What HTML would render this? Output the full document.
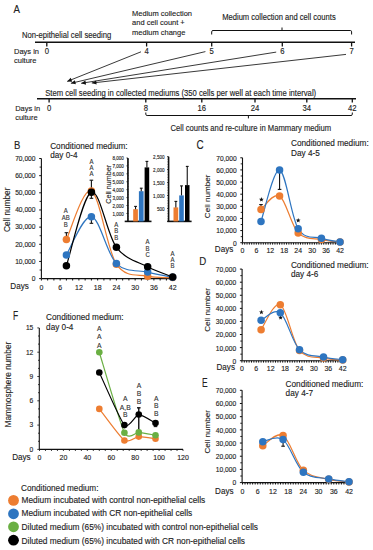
<!DOCTYPE html>
<html><head><meta charset="utf-8"><style>
html,body{margin:0;padding:0;background:#fff;}
svg{display:block;font-family:"Liberation Sans", sans-serif;}
</style></head><body>
<svg width="373" height="550" viewBox="0 0 373 550">
<rect width="373" height="550" fill="#fff"/>
<text x="0" y="0" font-size="10.8" text-anchor="start" fill="#222" stroke="#222" stroke-width="0.12" transform="translate(13.50,13.00) scale(0.9,1.07)">A</text>
<text x="0" y="0" font-size="7.66" text-anchor="start" fill="#222" stroke="#222" stroke-width="0.12" transform="translate(21.90,38.40) scale(1,1.07)">Non-epithelial cell seeding</text>
<line x1="35.00" y1="42.20" x2="355.00" y2="42.20" stroke="#111" stroke-width="1.5" />
<line x1="46.80" y1="42.00" x2="46.80" y2="46.50" stroke="#111" stroke-width="1.3" />
<text x="0" y="0" font-size="7.7" text-anchor="middle" fill="#222" stroke="#222" stroke-width="0.12" transform="translate(46.80,54.10) scale(1,1.07)">0</text>
<line x1="146.60" y1="42.00" x2="146.60" y2="46.50" stroke="#111" stroke-width="1.3" />
<text x="0" y="0" font-size="7.7" text-anchor="middle" fill="#222" stroke="#222" stroke-width="0.12" transform="translate(146.60,54.10) scale(1,1.07)">4</text>
<line x1="211.70" y1="42.00" x2="211.70" y2="46.50" stroke="#111" stroke-width="1.3" />
<text x="0" y="0" font-size="7.7" text-anchor="middle" fill="#222" stroke="#222" stroke-width="0.12" transform="translate(211.70,54.10) scale(1,1.07)">5</text>
<line x1="282.30" y1="42.00" x2="282.30" y2="46.50" stroke="#111" stroke-width="1.3" />
<text x="0" y="0" font-size="7.7" text-anchor="middle" fill="#222" stroke="#222" stroke-width="0.12" transform="translate(282.30,54.10) scale(1,1.07)">6</text>
<line x1="351.60" y1="42.00" x2="351.60" y2="46.50" stroke="#111" stroke-width="1.3" />
<text x="0" y="0" font-size="7.7" text-anchor="middle" fill="#222" stroke="#222" stroke-width="0.12" transform="translate(351.60,54.10) scale(1,1.07)">7</text>
<text x="0" y="0" font-size="7.5" text-anchor="start" fill="#222" stroke="#222" stroke-width="0.12" transform="translate(14.00,54.10) scale(1,1.07)">Days in</text>
<text x="0" y="0" font-size="7.5" text-anchor="start" fill="#222" stroke="#222" stroke-width="0.12" transform="translate(14.00,63.10) scale(1,1.07)">culture</text>
<text x="0" y="0" font-size="7.5" text-anchor="start" fill="#222" stroke="#222" stroke-width="0.12" transform="translate(132.10,16.00) scale(1,1.07)">Medium collection</text>
<text x="0" y="0" font-size="7.5" text-anchor="start" fill="#222" stroke="#222" stroke-width="0.12" transform="translate(132.10,25.30) scale(1,1.07)">and cell count +</text>
<text x="0" y="0" font-size="7.5" text-anchor="start" fill="#222" stroke="#222" stroke-width="0.12" transform="translate(132.10,34.60) scale(1,1.07)">medium change</text>
<text x="0" y="0" font-size="7.6" text-anchor="start" fill="#222" stroke="#222" stroke-width="0.12" transform="translate(222.20,20.00) scale(1,1.07)">Medium collection and cell counts</text>
<path d="M211.7,34.5 L211.7,31.8 Q211.7,30.5 213,30.5 L350.3,30.5 Q351.6,30.5 351.6,31.8 L351.6,34.5 M282,30.5 L282,27.5" stroke="#111" stroke-width="1" fill="none" />
<line x1="141.00" y1="51.80" x2="67.20" y2="81.40" stroke="#222" stroke-width="0.9" />
<path d="M67.20,81.40 L70.69,77.74 L72.25,81.64 Z" fill="#111"/>
<line x1="205.40" y1="51.60" x2="70.90" y2="83.30" stroke="#222" stroke-width="0.9" />
<path d="M70.90,83.30 L74.90,80.20 L75.86,84.29 Z" fill="#111"/>
<line x1="276.20" y1="52.10" x2="81.20" y2="83.30" stroke="#222" stroke-width="0.9" />
<path d="M81.20,83.30 L85.41,80.50 L86.07,84.65 Z" fill="#111"/>
<line x1="346.00" y1="54.40" x2="91.80" y2="83.00" stroke="#222" stroke-width="0.9" />
<path d="M91.80,83.00 L96.14,80.40 L96.61,84.57 Z" fill="#111"/>
<text x="0" y="0" font-size="7.67" text-anchor="start" fill="#222" stroke="#222" stroke-width="0.12" transform="translate(45.20,95.70) scale(1,1.07)">Stem cell seeding in collected mediums (350 cells per well at each time interval)</text>
<line x1="37.00" y1="98.80" x2="356.00" y2="98.80" stroke="#111" stroke-width="1.5" />
<line x1="49.10" y1="98.60" x2="49.10" y2="102.40" stroke="#111" stroke-width="1.3" />
<text x="0" y="0" font-size="7.7" text-anchor="middle" fill="#222" stroke="#222" stroke-width="0.12" transform="translate(49.10,111.40) scale(1,1.07)">0</text>
<line x1="145.80" y1="98.60" x2="145.80" y2="102.40" stroke="#111" stroke-width="1.3" />
<text x="0" y="0" font-size="7.7" text-anchor="middle" fill="#222" stroke="#222" stroke-width="0.12" transform="translate(145.80,111.40) scale(1,1.07)">8</text>
<line x1="201.80" y1="98.60" x2="201.80" y2="102.40" stroke="#111" stroke-width="1.3" />
<text x="0" y="0" font-size="7.7" text-anchor="middle" fill="#222" stroke="#222" stroke-width="0.12" transform="translate(201.80,111.40) scale(1,1.07)">16</text>
<line x1="255.00" y1="98.60" x2="255.00" y2="102.40" stroke="#111" stroke-width="1.3" />
<text x="0" y="0" font-size="7.7" text-anchor="middle" fill="#222" stroke="#222" stroke-width="0.12" transform="translate(255.00,111.40) scale(1,1.07)">24</text>
<line x1="306.80" y1="98.60" x2="306.80" y2="102.40" stroke="#111" stroke-width="1.3" />
<text x="0" y="0" font-size="7.7" text-anchor="middle" fill="#222" stroke="#222" stroke-width="0.12" transform="translate(306.80,111.40) scale(1,1.07)">34</text>
<line x1="352.30" y1="98.60" x2="352.30" y2="102.40" stroke="#111" stroke-width="1.3" />
<text x="0" y="0" font-size="7.7" text-anchor="middle" fill="#222" stroke="#222" stroke-width="0.12" transform="translate(352.30,111.40) scale(1,1.07)">42</text>
<text x="0" y="0" font-size="7.5" text-anchor="start" fill="#222" stroke="#222" stroke-width="0.12" transform="translate(15.20,111.10) scale(1,1.07)">Days in</text>
<text x="0" y="0" font-size="7.5" text-anchor="start" fill="#222" stroke="#222" stroke-width="0.12" transform="translate(15.20,119.80) scale(1,1.07)">culture</text>
<path d="M145.8,112.5 L145.8,114.2 Q145.8,115.5 147.1,115.5 L351,115.5 Q352.3,115.5 352.3,114.2 L352.3,112.5 M248.4,115.5 L248.4,118.4" stroke="#111" stroke-width="1" fill="none" />
<text x="0" y="0" font-size="7.66" text-anchor="start" fill="#222" stroke="#222" stroke-width="0.12" transform="translate(170.40,130.90) scale(1,1.07)">Cell counts and re-culture in Mammary medium</text>
<text x="0" y="0" font-size="10.8" text-anchor="start" fill="#222" stroke="#222" stroke-width="0.12" transform="translate(13.90,148.90) scale(0.88,1.07)">B</text>
<text x="0" y="0" font-size="8.2" text-anchor="start" fill="#222" stroke="#222" stroke-width="0.12" transform="translate(50.20,148.80) scale(1,1.07)">Conditioned medium:</text>
<text x="0" y="0" font-size="8.2" text-anchor="start" fill="#222" stroke="#222" stroke-width="0.12" transform="translate(50.20,158.30) scale(1,1.07)">day 0-4</text>
<line x1="41.40" y1="158.50" x2="41.40" y2="278.60" stroke="#111" stroke-width="1.1" />
<line x1="41.40" y1="278.60" x2="173.00" y2="278.60" stroke="#111" stroke-width="1.1" />
<line x1="39.20" y1="278.60" x2="41.40" y2="278.60" stroke="#111" stroke-width="1.0" />
<line x1="39.60" y1="270.02" x2="41.40" y2="270.02" stroke="#111" stroke-width="0.9" />
<text x="0" y="0" font-size="6.67" text-anchor="end" fill="#222" stroke="#222" stroke-width="0.12" transform="translate(35.50,280.90) scale(1,1.07)">0</text>
<line x1="39.20" y1="261.44" x2="41.40" y2="261.44" stroke="#111" stroke-width="1.0" />
<line x1="39.60" y1="252.86" x2="41.40" y2="252.86" stroke="#111" stroke-width="0.9" />
<text x="0" y="0" font-size="6.67" text-anchor="end" fill="#222" stroke="#222" stroke-width="0.12" transform="translate(35.50,263.74) scale(1,1.07)">10,000</text>
<line x1="39.20" y1="244.29" x2="41.40" y2="244.29" stroke="#111" stroke-width="1.0" />
<line x1="39.60" y1="235.71" x2="41.40" y2="235.71" stroke="#111" stroke-width="0.9" />
<text x="0" y="0" font-size="6.67" text-anchor="end" fill="#222" stroke="#222" stroke-width="0.12" transform="translate(35.50,246.59) scale(1,1.07)">20,000</text>
<line x1="39.20" y1="227.13" x2="41.40" y2="227.13" stroke="#111" stroke-width="1.0" />
<line x1="39.60" y1="218.55" x2="41.40" y2="218.55" stroke="#111" stroke-width="0.9" />
<text x="0" y="0" font-size="6.67" text-anchor="end" fill="#222" stroke="#222" stroke-width="0.12" transform="translate(35.50,229.43) scale(1,1.07)">30,000</text>
<line x1="39.20" y1="209.97" x2="41.40" y2="209.97" stroke="#111" stroke-width="1.0" />
<line x1="39.60" y1="201.39" x2="41.40" y2="201.39" stroke="#111" stroke-width="0.9" />
<text x="0" y="0" font-size="6.67" text-anchor="end" fill="#222" stroke="#222" stroke-width="0.12" transform="translate(35.50,212.27) scale(1,1.07)">40,000</text>
<line x1="39.20" y1="192.81" x2="41.40" y2="192.81" stroke="#111" stroke-width="1.0" />
<line x1="39.60" y1="184.24" x2="41.40" y2="184.24" stroke="#111" stroke-width="0.9" />
<text x="0" y="0" font-size="6.67" text-anchor="end" fill="#222" stroke="#222" stroke-width="0.12" transform="translate(35.50,195.11) scale(1,1.07)">50,000</text>
<line x1="39.20" y1="175.66" x2="41.40" y2="175.66" stroke="#111" stroke-width="1.0" />
<line x1="39.60" y1="167.08" x2="41.40" y2="167.08" stroke="#111" stroke-width="0.9" />
<text x="0" y="0" font-size="6.67" text-anchor="end" fill="#222" stroke="#222" stroke-width="0.12" transform="translate(35.50,177.96) scale(1,1.07)">60,000</text>
<line x1="39.20" y1="158.50" x2="41.40" y2="158.50" stroke="#111" stroke-width="1.0" />
<text x="0" y="0" font-size="6.67" text-anchor="end" fill="#222" stroke="#222" stroke-width="0.12" transform="translate(35.50,160.80) scale(1,1.07)">70,000</text>
<line x1="41.40" y1="278.60" x2="41.40" y2="280.50" stroke="#111" stroke-width="1.0" />
<line x1="47.65" y1="278.60" x2="47.65" y2="280.50" stroke="#111" stroke-width="1.0" />
<line x1="53.90" y1="278.60" x2="53.90" y2="280.50" stroke="#111" stroke-width="1.0" />
<line x1="60.15" y1="278.60" x2="60.15" y2="280.50" stroke="#111" stroke-width="1.0" />
<line x1="66.40" y1="278.60" x2="66.40" y2="280.50" stroke="#111" stroke-width="1.0" />
<line x1="72.65" y1="278.60" x2="72.65" y2="280.50" stroke="#111" stroke-width="1.0" />
<line x1="78.90" y1="278.60" x2="78.90" y2="280.50" stroke="#111" stroke-width="1.0" />
<line x1="85.15" y1="278.60" x2="85.15" y2="280.50" stroke="#111" stroke-width="1.0" />
<line x1="91.40" y1="278.60" x2="91.40" y2="280.50" stroke="#111" stroke-width="1.0" />
<line x1="97.65" y1="278.60" x2="97.65" y2="280.50" stroke="#111" stroke-width="1.0" />
<line x1="103.90" y1="278.60" x2="103.90" y2="280.50" stroke="#111" stroke-width="1.0" />
<line x1="110.15" y1="278.60" x2="110.15" y2="280.50" stroke="#111" stroke-width="1.0" />
<line x1="116.40" y1="278.60" x2="116.40" y2="280.50" stroke="#111" stroke-width="1.0" />
<line x1="122.65" y1="278.60" x2="122.65" y2="280.50" stroke="#111" stroke-width="1.0" />
<line x1="128.90" y1="278.60" x2="128.90" y2="280.50" stroke="#111" stroke-width="1.0" />
<line x1="135.15" y1="278.60" x2="135.15" y2="280.50" stroke="#111" stroke-width="1.0" />
<line x1="141.40" y1="278.60" x2="141.40" y2="280.50" stroke="#111" stroke-width="1.0" />
<line x1="147.65" y1="278.60" x2="147.65" y2="280.50" stroke="#111" stroke-width="1.0" />
<line x1="153.90" y1="278.60" x2="153.90" y2="280.50" stroke="#111" stroke-width="1.0" />
<line x1="160.15" y1="278.60" x2="160.15" y2="280.50" stroke="#111" stroke-width="1.0" />
<line x1="166.40" y1="278.60" x2="166.40" y2="280.50" stroke="#111" stroke-width="1.0" />
<line x1="172.65" y1="278.60" x2="172.65" y2="280.50" stroke="#111" stroke-width="1.0" />
<text x="0" y="0" font-size="7.0" text-anchor="middle" fill="#222" stroke="#222" stroke-width="0.12" transform="translate(41.40,289.60) scale(1,1.07)">0</text>
<text x="0" y="0" font-size="7.0" text-anchor="middle" fill="#222" stroke="#222" stroke-width="0.12" transform="translate(60.15,289.60) scale(1,1.07)">6</text>
<text x="0" y="0" font-size="7.0" text-anchor="middle" fill="#222" stroke="#222" stroke-width="0.12" transform="translate(78.90,289.60) scale(1,1.07)">12</text>
<text x="0" y="0" font-size="7.0" text-anchor="middle" fill="#222" stroke="#222" stroke-width="0.12" transform="translate(97.65,289.60) scale(1,1.07)">18</text>
<text x="0" y="0" font-size="7.0" text-anchor="middle" fill="#222" stroke="#222" stroke-width="0.12" transform="translate(116.40,289.60) scale(1,1.07)">24</text>
<text x="0" y="0" font-size="7.0" text-anchor="middle" fill="#222" stroke="#222" stroke-width="0.12" transform="translate(135.15,289.60) scale(1,1.07)">30</text>
<text x="0" y="0" font-size="7.0" text-anchor="middle" fill="#222" stroke="#222" stroke-width="0.12" transform="translate(153.90,289.60) scale(1,1.07)">36</text>
<text x="0" y="0" font-size="7.0" text-anchor="middle" fill="#222" stroke="#222" stroke-width="0.12" transform="translate(172.65,289.60) scale(1,1.07)">42</text>
<text x="0" y="0" font-size="8.1" text-anchor="start" fill="#222" stroke="#222" stroke-width="0.12" transform="translate(10.30,288.70) scale(1,1.07)">Days</text>
<text x="0.00" y="0.00" font-size="8.25" text-anchor="middle" fill="#222" stroke="#222" stroke-width="0.12" transform="translate(10.1,209.8) rotate(-90)">Cell number</text>
<path d="M66.40,239.48 C70.57,231.42 83.07,186.98 91.40,191.10 C99.73,195.22 107.03,250.00 116.40,264.19 C125.78,278.37 138.28,273.97 147.65,276.20 C157.03,278.43 168.48,277.34 172.65,277.57" stroke="#ED7D31" stroke-width="1.2" fill="none" />
<path d="M66.40,254.92 C70.57,248.55 83.07,215.22 91.40,216.66 C99.73,218.11 107.03,254.35 116.40,263.59 C125.78,272.82 138.28,269.81 147.65,272.08 C157.03,274.35 168.48,276.37 172.65,277.23" stroke="#2E75C0" stroke-width="1.2" fill="none" />
<path d="M66.40,265.73 C70.57,253.46 83.07,195.20 91.40,192.13 C99.73,189.05 107.03,234.83 116.40,247.27 C125.78,259.71 138.28,261.83 147.65,266.76 C157.03,271.70 168.48,275.20 172.65,276.88" stroke="#000000" stroke-width="1.2" fill="none" />
<line x1="66.40" y1="232.70" x2="66.40" y2="239.48" stroke="#111" stroke-width="1.1" />
<line x1="64.60" y1="232.70" x2="68.20" y2="232.70" stroke="#111" stroke-width="1.1" />
<line x1="91.40" y1="180.20" x2="91.40" y2="198.30" stroke="#111" stroke-width="1.1" />
<line x1="89.60" y1="180.20" x2="93.20" y2="180.20" stroke="#111" stroke-width="1.1" />
<line x1="89.60" y1="198.30" x2="93.20" y2="198.30" stroke="#111" stroke-width="1.1" />
<line x1="91.40" y1="223.30" x2="91.40" y2="216.66" stroke="#111" stroke-width="1.1" />
<line x1="89.60" y1="223.30" x2="93.20" y2="223.30" stroke="#111" stroke-width="1.1" />
<circle cx="66.40" cy="239.48" r="3.75" fill="#ED7D31"/>
<circle cx="91.40" cy="191.10" r="3.75" fill="#ED7D31"/>
<circle cx="116.40" cy="264.19" r="3.75" fill="#ED7D31"/>
<circle cx="147.65" cy="276.20" r="3.75" fill="#ED7D31"/>
<circle cx="172.65" cy="277.57" r="3.75" fill="#ED7D31"/>
<circle cx="66.40" cy="254.92" r="3.75" fill="#2E75C0"/>
<circle cx="91.40" cy="216.66" r="3.75" fill="#2E75C0"/>
<circle cx="116.40" cy="263.59" r="3.75" fill="#2E75C0"/>
<circle cx="147.65" cy="272.08" r="3.75" fill="#2E75C0"/>
<circle cx="172.65" cy="277.23" r="3.75" fill="#2E75C0"/>
<circle cx="66.40" cy="265.73" r="3.75" fill="#000000"/>
<circle cx="91.40" cy="192.13" r="3.75" fill="#000000"/>
<circle cx="116.40" cy="247.27" r="3.75" fill="#000000"/>
<circle cx="147.65" cy="266.76" r="3.75" fill="#000000"/>
<circle cx="172.65" cy="276.88" r="3.75" fill="#000000"/>
<text x="0" y="0" font-size="6" text-anchor="middle" fill="#333" stroke="#333" stroke-width="0.12" transform="translate(91.60,164.00) scale(1,1.07)">A</text>
<text x="0" y="0" font-size="6" text-anchor="middle" fill="#333" stroke="#333" stroke-width="0.12" transform="translate(91.60,170.30) scale(1,1.07)">A</text>
<text x="0" y="0" font-size="6" text-anchor="middle" fill="#333" stroke="#333" stroke-width="0.12" transform="translate(91.60,176.00) scale(1,1.07)">A</text>
<text x="0" y="0" font-size="6" text-anchor="middle" fill="#333" stroke="#333" stroke-width="0.12" transform="translate(65.80,213.30) scale(1,1.07)">A</text>
<text x="0" y="0" font-size="6" text-anchor="middle" fill="#333" stroke="#333" stroke-width="0.12" transform="translate(65.80,220.20) scale(1,1.07)">AB</text>
<text x="0" y="0" font-size="6" text-anchor="middle" fill="#333" stroke="#333" stroke-width="0.12" transform="translate(65.80,227.30) scale(1,1.07)">B</text>
<text x="0" y="0" font-size="6" text-anchor="middle" fill="#333" stroke="#333" stroke-width="0.12" transform="translate(116.30,226.80) scale(1,1.07)">A</text>
<text x="0" y="0" font-size="6" text-anchor="middle" fill="#333" stroke="#333" stroke-width="0.12" transform="translate(116.30,233.20) scale(1,1.07)">B</text>
<text x="0" y="0" font-size="6" text-anchor="middle" fill="#333" stroke="#333" stroke-width="0.12" transform="translate(116.30,239.60) scale(1,1.07)">B</text>
<text x="0" y="0" font-size="6" text-anchor="middle" fill="#333" stroke="#333" stroke-width="0.12" transform="translate(147.60,243.50) scale(1,1.07)">A</text>
<text x="0" y="0" font-size="6" text-anchor="middle" fill="#333" stroke="#333" stroke-width="0.12" transform="translate(147.60,250.50) scale(1,1.07)">B</text>
<text x="0" y="0" font-size="6" text-anchor="middle" fill="#333" stroke="#333" stroke-width="0.12" transform="translate(147.60,257.40) scale(1,1.07)">C</text>
<text x="0" y="0" font-size="6" text-anchor="middle" fill="#333" stroke="#333" stroke-width="0.12" transform="translate(172.50,255.90) scale(1,1.07)">A</text>
<text x="0" y="0" font-size="6" text-anchor="middle" fill="#333" stroke="#333" stroke-width="0.12" transform="translate(172.50,261.70) scale(1,1.07)">A</text>
<text x="0" y="0" font-size="6" text-anchor="middle" fill="#333" stroke="#333" stroke-width="0.12" transform="translate(172.50,268.10) scale(1,1.07)">B</text>
<line x1="127.90" y1="158.00" x2="127.90" y2="221.40" stroke="#111" stroke-width="1.6" />
<line x1="124.70" y1="221.40" x2="151.50" y2="221.40" stroke="#111" stroke-width="1.6" />
<line x1="126.40" y1="221.40" x2="127.90" y2="221.40" stroke="#111" stroke-width="0.7" />
<line x1="126.40" y1="213.47" x2="127.90" y2="213.47" stroke="#111" stroke-width="0.7" />
<text x="0" y="0" font-size="4.6" text-anchor="end" fill="#222" stroke="#222" stroke-width="0.12" transform="translate(123.90,215.77) scale(1,1.07)">1,000</text>
<line x1="126.40" y1="205.54" x2="127.90" y2="205.54" stroke="#111" stroke-width="0.7" />
<text x="0" y="0" font-size="4.6" text-anchor="end" fill="#222" stroke="#222" stroke-width="0.12" transform="translate(123.90,207.84) scale(1,1.07)">2,000</text>
<line x1="126.40" y1="197.61" x2="127.90" y2="197.61" stroke="#111" stroke-width="0.7" />
<text x="0" y="0" font-size="4.6" text-anchor="end" fill="#222" stroke="#222" stroke-width="0.12" transform="translate(123.90,199.91) scale(1,1.07)">3,000</text>
<line x1="126.40" y1="189.68" x2="127.90" y2="189.68" stroke="#111" stroke-width="0.7" />
<text x="0" y="0" font-size="4.6" text-anchor="end" fill="#222" stroke="#222" stroke-width="0.12" transform="translate(123.90,191.98) scale(1,1.07)">4,000</text>
<line x1="126.40" y1="181.75" x2="127.90" y2="181.75" stroke="#111" stroke-width="0.7" />
<text x="0" y="0" font-size="4.6" text-anchor="end" fill="#222" stroke="#222" stroke-width="0.12" transform="translate(123.90,184.05) scale(1,1.07)">5,000</text>
<line x1="126.40" y1="173.82" x2="127.90" y2="173.82" stroke="#111" stroke-width="0.7" />
<text x="0" y="0" font-size="4.6" text-anchor="end" fill="#222" stroke="#222" stroke-width="0.12" transform="translate(123.90,176.12) scale(1,1.07)">6,000</text>
<line x1="126.40" y1="165.89" x2="127.90" y2="165.89" stroke="#111" stroke-width="0.7" />
<text x="0" y="0" font-size="4.6" text-anchor="end" fill="#222" stroke="#222" stroke-width="0.12" transform="translate(123.90,168.19) scale(1,1.07)">7,000</text>
<line x1="126.40" y1="157.96" x2="127.90" y2="157.96" stroke="#111" stroke-width="0.7" />
<text x="0" y="0" font-size="4.6" text-anchor="end" fill="#222" stroke="#222" stroke-width="0.12" transform="translate(123.90,160.26) scale(1,1.07)">8,000</text>
<line x1="127.90" y1="221.40" x2="128.90" y2="221.40" stroke="#111" stroke-width="0.5" />
<line x1="127.90" y1="219.81" x2="128.90" y2="219.81" stroke="#111" stroke-width="0.5" />
<line x1="127.90" y1="218.23" x2="128.90" y2="218.23" stroke="#111" stroke-width="0.5" />
<line x1="127.90" y1="216.64" x2="128.90" y2="216.64" stroke="#111" stroke-width="0.5" />
<line x1="127.90" y1="215.06" x2="128.90" y2="215.06" stroke="#111" stroke-width="0.5" />
<line x1="127.90" y1="213.47" x2="128.90" y2="213.47" stroke="#111" stroke-width="0.5" />
<line x1="127.90" y1="211.88" x2="128.90" y2="211.88" stroke="#111" stroke-width="0.5" />
<line x1="127.90" y1="210.30" x2="128.90" y2="210.30" stroke="#111" stroke-width="0.5" />
<line x1="127.90" y1="208.71" x2="128.90" y2="208.71" stroke="#111" stroke-width="0.5" />
<line x1="127.90" y1="207.13" x2="128.90" y2="207.13" stroke="#111" stroke-width="0.5" />
<line x1="127.90" y1="205.54" x2="128.90" y2="205.54" stroke="#111" stroke-width="0.5" />
<line x1="127.90" y1="203.95" x2="128.90" y2="203.95" stroke="#111" stroke-width="0.5" />
<line x1="127.90" y1="202.37" x2="128.90" y2="202.37" stroke="#111" stroke-width="0.5" />
<line x1="127.90" y1="200.78" x2="128.90" y2="200.78" stroke="#111" stroke-width="0.5" />
<line x1="127.90" y1="199.20" x2="128.90" y2="199.20" stroke="#111" stroke-width="0.5" />
<line x1="127.90" y1="197.61" x2="128.90" y2="197.61" stroke="#111" stroke-width="0.5" />
<line x1="127.90" y1="196.02" x2="128.90" y2="196.02" stroke="#111" stroke-width="0.5" />
<line x1="127.90" y1="194.44" x2="128.90" y2="194.44" stroke="#111" stroke-width="0.5" />
<line x1="127.90" y1="192.85" x2="128.90" y2="192.85" stroke="#111" stroke-width="0.5" />
<line x1="127.90" y1="191.27" x2="128.90" y2="191.27" stroke="#111" stroke-width="0.5" />
<line x1="127.90" y1="189.68" x2="128.90" y2="189.68" stroke="#111" stroke-width="0.5" />
<line x1="127.90" y1="188.09" x2="128.90" y2="188.09" stroke="#111" stroke-width="0.5" />
<line x1="127.90" y1="186.51" x2="128.90" y2="186.51" stroke="#111" stroke-width="0.5" />
<line x1="127.90" y1="184.92" x2="128.90" y2="184.92" stroke="#111" stroke-width="0.5" />
<line x1="127.90" y1="183.34" x2="128.90" y2="183.34" stroke="#111" stroke-width="0.5" />
<line x1="127.90" y1="181.75" x2="128.90" y2="181.75" stroke="#111" stroke-width="0.5" />
<line x1="127.90" y1="180.16" x2="128.90" y2="180.16" stroke="#111" stroke-width="0.5" />
<line x1="127.90" y1="178.58" x2="128.90" y2="178.58" stroke="#111" stroke-width="0.5" />
<line x1="127.90" y1="176.99" x2="128.90" y2="176.99" stroke="#111" stroke-width="0.5" />
<line x1="127.90" y1="175.41" x2="128.90" y2="175.41" stroke="#111" stroke-width="0.5" />
<line x1="127.90" y1="173.82" x2="128.90" y2="173.82" stroke="#111" stroke-width="0.5" />
<line x1="127.90" y1="172.23" x2="128.90" y2="172.23" stroke="#111" stroke-width="0.5" />
<line x1="127.90" y1="170.65" x2="128.90" y2="170.65" stroke="#111" stroke-width="0.5" />
<line x1="127.90" y1="169.06" x2="128.90" y2="169.06" stroke="#111" stroke-width="0.5" />
<line x1="127.90" y1="167.48" x2="128.90" y2="167.48" stroke="#111" stroke-width="0.5" />
<line x1="127.90" y1="165.89" x2="128.90" y2="165.89" stroke="#111" stroke-width="0.5" />
<line x1="127.90" y1="164.30" x2="128.90" y2="164.30" stroke="#111" stroke-width="0.5" />
<line x1="127.90" y1="162.72" x2="128.90" y2="162.72" stroke="#111" stroke-width="0.5" />
<line x1="127.90" y1="161.13" x2="128.90" y2="161.13" stroke="#111" stroke-width="0.5" />
<line x1="127.90" y1="159.55" x2="128.90" y2="159.55" stroke="#111" stroke-width="0.5" />
<text x="0.00" y="0.00" font-size="7.2" text-anchor="middle" fill="#222" stroke="#222" stroke-width="0.12" transform="translate(110.8,184.3) rotate(-90)">Cell number</text>
<rect x="133.20" y="209.20" width="4.70" height="12.20" fill="#ED7D31"/>
<line x1="135.55" y1="206.40" x2="135.55" y2="209.20" stroke="#111" stroke-width="1.1" />
<line x1="134.15" y1="206.40" x2="136.95" y2="206.40" stroke="#111" stroke-width="1.1" />
<rect x="138.90" y="191.20" width="4.70" height="30.20" fill="#2E75C0"/>
<line x1="141.25" y1="188.20" x2="141.25" y2="191.20" stroke="#111" stroke-width="1.1" />
<line x1="139.85" y1="188.20" x2="142.65" y2="188.20" stroke="#111" stroke-width="1.1" />
<rect x="144.60" y="167.40" width="4.60" height="54.00" fill="#000000"/>
<line x1="146.90" y1="161.40" x2="146.90" y2="167.40" stroke="#111" stroke-width="1.1" />
<line x1="145.50" y1="161.40" x2="148.30" y2="161.40" stroke="#111" stroke-width="1.1" />
<line x1="168.60" y1="156.70" x2="168.60" y2="221.40" stroke="#111" stroke-width="1.6" />
<line x1="167.40" y1="221.40" x2="191.60" y2="221.40" stroke="#111" stroke-width="1.6" />
<line x1="167.10" y1="221.40" x2="168.60" y2="221.40" stroke="#111" stroke-width="0.7" />
<line x1="167.10" y1="208.45" x2="168.60" y2="208.45" stroke="#111" stroke-width="0.7" />
<text x="0" y="0" font-size="4.6" text-anchor="end" fill="#222" stroke="#222" stroke-width="0.12" transform="translate(164.60,210.75) scale(1,1.07)">500</text>
<line x1="167.10" y1="195.50" x2="168.60" y2="195.50" stroke="#111" stroke-width="0.7" />
<text x="0" y="0" font-size="4.6" text-anchor="end" fill="#222" stroke="#222" stroke-width="0.12" transform="translate(164.60,197.80) scale(1,1.07)">1,000</text>
<line x1="167.10" y1="182.55" x2="168.60" y2="182.55" stroke="#111" stroke-width="0.7" />
<text x="0" y="0" font-size="4.6" text-anchor="end" fill="#222" stroke="#222" stroke-width="0.12" transform="translate(164.60,184.85) scale(1,1.07)">1,500</text>
<line x1="167.10" y1="169.60" x2="168.60" y2="169.60" stroke="#111" stroke-width="0.7" />
<text x="0" y="0" font-size="4.6" text-anchor="end" fill="#222" stroke="#222" stroke-width="0.12" transform="translate(164.60,171.90) scale(1,1.07)">2,000</text>
<line x1="167.10" y1="156.65" x2="168.60" y2="156.65" stroke="#111" stroke-width="0.7" />
<text x="0" y="0" font-size="4.6" text-anchor="end" fill="#222" stroke="#222" stroke-width="0.12" transform="translate(164.60,158.95) scale(1,1.07)">2,500</text>
<line x1="167.50" y1="221.40" x2="168.60" y2="221.40" stroke="#111" stroke-width="0.6" />
<line x1="167.50" y1="218.81" x2="168.60" y2="218.81" stroke="#111" stroke-width="0.6" />
<line x1="167.50" y1="216.22" x2="168.60" y2="216.22" stroke="#111" stroke-width="0.6" />
<line x1="167.50" y1="213.63" x2="168.60" y2="213.63" stroke="#111" stroke-width="0.6" />
<line x1="167.50" y1="211.04" x2="168.60" y2="211.04" stroke="#111" stroke-width="0.6" />
<line x1="167.50" y1="208.45" x2="168.60" y2="208.45" stroke="#111" stroke-width="0.6" />
<line x1="167.50" y1="205.86" x2="168.60" y2="205.86" stroke="#111" stroke-width="0.6" />
<line x1="167.50" y1="203.27" x2="168.60" y2="203.27" stroke="#111" stroke-width="0.6" />
<line x1="167.50" y1="200.68" x2="168.60" y2="200.68" stroke="#111" stroke-width="0.6" />
<line x1="167.50" y1="198.09" x2="168.60" y2="198.09" stroke="#111" stroke-width="0.6" />
<line x1="167.50" y1="195.50" x2="168.60" y2="195.50" stroke="#111" stroke-width="0.6" />
<line x1="167.50" y1="192.91" x2="168.60" y2="192.91" stroke="#111" stroke-width="0.6" />
<line x1="167.50" y1="190.32" x2="168.60" y2="190.32" stroke="#111" stroke-width="0.6" />
<line x1="167.50" y1="187.73" x2="168.60" y2="187.73" stroke="#111" stroke-width="0.6" />
<line x1="167.50" y1="185.14" x2="168.60" y2="185.14" stroke="#111" stroke-width="0.6" />
<line x1="167.50" y1="182.55" x2="168.60" y2="182.55" stroke="#111" stroke-width="0.6" />
<line x1="167.50" y1="179.96" x2="168.60" y2="179.96" stroke="#111" stroke-width="0.6" />
<line x1="167.50" y1="177.37" x2="168.60" y2="177.37" stroke="#111" stroke-width="0.6" />
<line x1="167.50" y1="174.78" x2="168.60" y2="174.78" stroke="#111" stroke-width="0.6" />
<line x1="167.50" y1="172.19" x2="168.60" y2="172.19" stroke="#111" stroke-width="0.6" />
<line x1="167.50" y1="169.60" x2="168.60" y2="169.60" stroke="#111" stroke-width="0.6" />
<line x1="167.50" y1="167.01" x2="168.60" y2="167.01" stroke="#111" stroke-width="0.6" />
<line x1="167.50" y1="164.42" x2="168.60" y2="164.42" stroke="#111" stroke-width="0.6" />
<line x1="167.50" y1="161.83" x2="168.60" y2="161.83" stroke="#111" stroke-width="0.6" />
<line x1="167.50" y1="159.24" x2="168.60" y2="159.24" stroke="#111" stroke-width="0.6" />
<line x1="167.50" y1="156.65" x2="168.60" y2="156.65" stroke="#111" stroke-width="0.6" />
<rect x="173.50" y="207.40" width="4.70" height="14.00" fill="#ED7D31"/>
<line x1="175.85" y1="201.40" x2="175.85" y2="207.40" stroke="#111" stroke-width="1.1" />
<line x1="174.45" y1="201.40" x2="177.25" y2="201.40" stroke="#111" stroke-width="1.1" />
<rect x="179.20" y="195.40" width="4.60" height="26.00" fill="#2E75C0"/>
<line x1="181.50" y1="185.90" x2="181.50" y2="195.40" stroke="#111" stroke-width="1.1" />
<line x1="180.10" y1="185.90" x2="182.90" y2="185.90" stroke="#111" stroke-width="1.1" />
<rect x="185.00" y="185.10" width="4.50" height="36.30" fill="#000000"/>
<line x1="187.25" y1="166.40" x2="187.25" y2="185.10" stroke="#111" stroke-width="1.1" />
<line x1="185.85" y1="166.40" x2="188.65" y2="166.40" stroke="#111" stroke-width="1.1" />
<text x="0" y="0" font-size="11.3" text-anchor="start" fill="#222" stroke="#222" stroke-width="0.12" transform="translate(196.40,149.00) scale(0.88,1.07)">C</text>
<text x="0" y="0" font-size="8.23" text-anchor="start" fill="#222" stroke="#222" stroke-width="0.12" transform="translate(291.00,145.80) scale(1,1.07)">Conditioned medium:</text>
<text x="0" y="0" font-size="8.23" text-anchor="start" fill="#222" stroke="#222" stroke-width="0.12" transform="translate(291.00,155.90) scale(1,1.07)">Day 4-5</text>
<line x1="242.50" y1="157.80" x2="242.50" y2="242.70" stroke="#111" stroke-width="1.1" />
<line x1="242.50" y1="242.70" x2="340.00" y2="242.70" stroke="#111" stroke-width="1.1" />
<line x1="240.30" y1="242.70" x2="242.50" y2="242.70" stroke="#111" stroke-width="1.0" />
<line x1="240.70" y1="236.64" x2="242.50" y2="236.64" stroke="#111" stroke-width="0.9" />
<text x="0" y="0" font-size="6.67" text-anchor="end" fill="#222" stroke="#222" stroke-width="0.12" transform="translate(236.60,245.50) scale(1,1.07)">0</text>
<line x1="240.30" y1="230.57" x2="242.50" y2="230.57" stroke="#111" stroke-width="1.0" />
<line x1="240.70" y1="224.51" x2="242.50" y2="224.51" stroke="#111" stroke-width="0.9" />
<text x="0" y="0" font-size="6.67" text-anchor="end" fill="#222" stroke="#222" stroke-width="0.12" transform="translate(236.60,233.37) scale(1,1.07)">10,000</text>
<line x1="240.30" y1="218.44" x2="242.50" y2="218.44" stroke="#111" stroke-width="1.0" />
<line x1="240.70" y1="212.38" x2="242.50" y2="212.38" stroke="#111" stroke-width="0.9" />
<text x="0" y="0" font-size="6.67" text-anchor="end" fill="#222" stroke="#222" stroke-width="0.12" transform="translate(236.60,221.24) scale(1,1.07)">20,000</text>
<line x1="240.30" y1="206.31" x2="242.50" y2="206.31" stroke="#111" stroke-width="1.0" />
<line x1="240.70" y1="200.25" x2="242.50" y2="200.25" stroke="#111" stroke-width="0.9" />
<text x="0" y="0" font-size="6.67" text-anchor="end" fill="#222" stroke="#222" stroke-width="0.12" transform="translate(236.60,209.11) scale(1,1.07)">30,000</text>
<line x1="240.30" y1="194.19" x2="242.50" y2="194.19" stroke="#111" stroke-width="1.0" />
<line x1="240.70" y1="188.12" x2="242.50" y2="188.12" stroke="#111" stroke-width="0.9" />
<text x="0" y="0" font-size="6.67" text-anchor="end" fill="#222" stroke="#222" stroke-width="0.12" transform="translate(236.60,196.99) scale(1,1.07)">40,000</text>
<line x1="240.30" y1="182.06" x2="242.50" y2="182.06" stroke="#111" stroke-width="1.0" />
<line x1="240.70" y1="175.99" x2="242.50" y2="175.99" stroke="#111" stroke-width="0.9" />
<text x="0" y="0" font-size="6.67" text-anchor="end" fill="#222" stroke="#222" stroke-width="0.12" transform="translate(236.60,184.86) scale(1,1.07)">50,000</text>
<line x1="240.30" y1="169.93" x2="242.50" y2="169.93" stroke="#111" stroke-width="1.0" />
<line x1="240.70" y1="163.86" x2="242.50" y2="163.86" stroke="#111" stroke-width="0.9" />
<text x="0" y="0" font-size="6.67" text-anchor="end" fill="#222" stroke="#222" stroke-width="0.12" transform="translate(236.60,172.73) scale(1,1.07)">60,000</text>
<line x1="240.30" y1="157.80" x2="242.50" y2="157.80" stroke="#111" stroke-width="1.0" />
<text x="0" y="0" font-size="6.67" text-anchor="end" fill="#222" stroke="#222" stroke-width="0.12" transform="translate(236.60,160.60) scale(1,1.07)">70,000</text>
<line x1="242.40" y1="242.70" x2="242.40" y2="244.60" stroke="#111" stroke-width="1.0" />
<line x1="244.72" y1="242.70" x2="244.72" y2="244.60" stroke="#111" stroke-width="1.0" />
<line x1="247.05" y1="242.70" x2="247.05" y2="244.60" stroke="#111" stroke-width="1.0" />
<line x1="249.37" y1="242.70" x2="249.37" y2="244.60" stroke="#111" stroke-width="1.0" />
<line x1="251.70" y1="242.70" x2="251.70" y2="244.60" stroke="#111" stroke-width="1.0" />
<line x1="254.02" y1="242.70" x2="254.02" y2="244.60" stroke="#111" stroke-width="1.0" />
<line x1="256.34" y1="242.70" x2="256.34" y2="244.60" stroke="#111" stroke-width="1.0" />
<line x1="258.67" y1="242.70" x2="258.67" y2="244.60" stroke="#111" stroke-width="1.0" />
<line x1="260.99" y1="242.70" x2="260.99" y2="244.60" stroke="#111" stroke-width="1.0" />
<line x1="263.32" y1="242.70" x2="263.32" y2="244.60" stroke="#111" stroke-width="1.0" />
<line x1="265.64" y1="242.70" x2="265.64" y2="244.60" stroke="#111" stroke-width="1.0" />
<line x1="267.96" y1="242.70" x2="267.96" y2="244.60" stroke="#111" stroke-width="1.0" />
<line x1="270.29" y1="242.70" x2="270.29" y2="244.60" stroke="#111" stroke-width="1.0" />
<line x1="272.61" y1="242.70" x2="272.61" y2="244.60" stroke="#111" stroke-width="1.0" />
<line x1="274.94" y1="242.70" x2="274.94" y2="244.60" stroke="#111" stroke-width="1.0" />
<line x1="277.26" y1="242.70" x2="277.26" y2="244.60" stroke="#111" stroke-width="1.0" />
<line x1="279.58" y1="242.70" x2="279.58" y2="244.60" stroke="#111" stroke-width="1.0" />
<line x1="281.91" y1="242.70" x2="281.91" y2="244.60" stroke="#111" stroke-width="1.0" />
<line x1="284.23" y1="242.70" x2="284.23" y2="244.60" stroke="#111" stroke-width="1.0" />
<line x1="286.56" y1="242.70" x2="286.56" y2="244.60" stroke="#111" stroke-width="1.0" />
<line x1="288.88" y1="242.70" x2="288.88" y2="244.60" stroke="#111" stroke-width="1.0" />
<line x1="291.20" y1="242.70" x2="291.20" y2="244.60" stroke="#111" stroke-width="1.0" />
<line x1="293.53" y1="242.70" x2="293.53" y2="244.60" stroke="#111" stroke-width="1.0" />
<line x1="295.85" y1="242.70" x2="295.85" y2="244.60" stroke="#111" stroke-width="1.0" />
<line x1="298.18" y1="242.70" x2="298.18" y2="244.60" stroke="#111" stroke-width="1.0" />
<line x1="300.50" y1="242.70" x2="300.50" y2="244.60" stroke="#111" stroke-width="1.0" />
<line x1="302.82" y1="242.70" x2="302.82" y2="244.60" stroke="#111" stroke-width="1.0" />
<line x1="305.15" y1="242.70" x2="305.15" y2="244.60" stroke="#111" stroke-width="1.0" />
<line x1="307.47" y1="242.70" x2="307.47" y2="244.60" stroke="#111" stroke-width="1.0" />
<line x1="309.80" y1="242.70" x2="309.80" y2="244.60" stroke="#111" stroke-width="1.0" />
<line x1="312.12" y1="242.70" x2="312.12" y2="244.60" stroke="#111" stroke-width="1.0" />
<line x1="314.44" y1="242.70" x2="314.44" y2="244.60" stroke="#111" stroke-width="1.0" />
<line x1="316.77" y1="242.70" x2="316.77" y2="244.60" stroke="#111" stroke-width="1.0" />
<line x1="319.09" y1="242.70" x2="319.09" y2="244.60" stroke="#111" stroke-width="1.0" />
<line x1="321.42" y1="242.70" x2="321.42" y2="244.60" stroke="#111" stroke-width="1.0" />
<line x1="323.74" y1="242.70" x2="323.74" y2="244.60" stroke="#111" stroke-width="1.0" />
<line x1="326.06" y1="242.70" x2="326.06" y2="244.60" stroke="#111" stroke-width="1.0" />
<line x1="328.39" y1="242.70" x2="328.39" y2="244.60" stroke="#111" stroke-width="1.0" />
<line x1="330.71" y1="242.70" x2="330.71" y2="244.60" stroke="#111" stroke-width="1.0" />
<line x1="333.04" y1="242.70" x2="333.04" y2="244.60" stroke="#111" stroke-width="1.0" />
<line x1="335.36" y1="242.70" x2="335.36" y2="244.60" stroke="#111" stroke-width="1.0" />
<line x1="337.68" y1="242.70" x2="337.68" y2="244.60" stroke="#111" stroke-width="1.0" />
<line x1="340.01" y1="242.70" x2="340.01" y2="244.60" stroke="#111" stroke-width="1.0" />
<text x="0" y="0" font-size="7.0" text-anchor="middle" fill="#222" stroke="#222" stroke-width="0.12" transform="translate(242.40,253.40) scale(1,1.07)">0</text>
<text x="0" y="0" font-size="7.0" text-anchor="middle" fill="#222" stroke="#222" stroke-width="0.12" transform="translate(256.34,253.40) scale(1,1.07)">6</text>
<text x="0" y="0" font-size="7.0" text-anchor="middle" fill="#222" stroke="#222" stroke-width="0.12" transform="translate(270.29,253.40) scale(1,1.07)">12</text>
<text x="0" y="0" font-size="7.0" text-anchor="middle" fill="#222" stroke="#222" stroke-width="0.12" transform="translate(284.23,253.40) scale(1,1.07)">18</text>
<text x="0" y="0" font-size="7.0" text-anchor="middle" fill="#222" stroke="#222" stroke-width="0.12" transform="translate(298.18,253.40) scale(1,1.07)">24</text>
<text x="0" y="0" font-size="7.0" text-anchor="middle" fill="#222" stroke="#222" stroke-width="0.12" transform="translate(312.12,253.40) scale(1,1.07)">30</text>
<text x="0" y="0" font-size="7.0" text-anchor="middle" fill="#222" stroke="#222" stroke-width="0.12" transform="translate(326.06,253.40) scale(1,1.07)">36</text>
<text x="0" y="0" font-size="7.0" text-anchor="middle" fill="#222" stroke="#222" stroke-width="0.12" transform="translate(340.01,253.40) scale(1,1.07)">42</text>
<text x="0" y="0" font-size="8.1" text-anchor="start" fill="#222" stroke="#222" stroke-width="0.12" transform="translate(214.80,252.30) scale(1,1.07)">Days</text>
<text x="0.00" y="0.00" font-size="8.1" text-anchor="middle" fill="#222" stroke="#222" stroke-width="0.12" transform="translate(209.8,196.4) rotate(-90)">Cell number</text>
<path d="M260.99,209.59 C264.09,207.30 273.39,192.00 279.58,195.88 C285.78,199.76 291.20,225.60 298.18,232.88 C305.15,240.15 314.44,238.01 321.42,239.55 C328.39,241.08 336.91,241.67 340.01,242.09" stroke="#ED7D31" stroke-width="1.2" fill="none" />
<path d="M260.99,221.47 C264.09,212.90 273.39,168.84 279.58,170.05 C285.78,171.26 291.20,217.37 298.18,228.75 C305.15,240.13 314.44,236.13 321.42,238.33 C328.39,240.54 336.91,241.37 340.01,241.97" stroke="#2E75C0" stroke-width="1.2" fill="none" />
<line x1="260.99" y1="204.60" x2="260.99" y2="209.59" stroke="#111" stroke-width="1.1" />
<line x1="259.19" y1="204.60" x2="262.79" y2="204.60" stroke="#111" stroke-width="1.1" />
<line x1="279.58" y1="189.40" x2="279.58" y2="170.05" stroke="#111" stroke-width="1.1" />
<line x1="277.78" y1="189.40" x2="281.38" y2="189.40" stroke="#111" stroke-width="1.1" />
<circle cx="260.99" cy="209.59" r="3.75" fill="#ED7D31"/>
<circle cx="279.58" cy="195.88" r="3.75" fill="#ED7D31"/>
<circle cx="298.18" cy="232.88" r="3.75" fill="#ED7D31"/>
<circle cx="321.42" cy="239.55" r="3.75" fill="#ED7D31"/>
<circle cx="340.01" cy="242.09" r="3.75" fill="#ED7D31"/>
<circle cx="260.99" cy="221.47" r="3.75" fill="#2E75C0"/>
<circle cx="279.58" cy="170.05" r="3.75" fill="#2E75C0"/>
<circle cx="298.18" cy="228.75" r="3.75" fill="#2E75C0"/>
<circle cx="321.42" cy="238.33" r="3.75" fill="#2E75C0"/>
<circle cx="340.01" cy="241.97" r="3.75" fill="#2E75C0"/>
<polygon points="261.40,197.10 262.02,198.75 263.78,198.83 262.40,199.92 262.87,201.62 261.40,200.65 259.93,201.62 260.40,199.92 259.02,198.83 260.78,198.75" fill="#111"/>
<polygon points="298.20,217.90 298.82,219.55 300.58,219.63 299.20,220.72 299.67,222.42 298.20,221.45 296.73,222.42 297.20,220.72 295.82,219.63 297.58,219.55" fill="#111"/>
<text x="0" y="0" font-size="11" text-anchor="start" fill="#222" stroke="#222" stroke-width="0.12" transform="translate(199.30,264.50) scale(0.88,1.07)">D</text>
<text x="0" y="0" font-size="8.23" text-anchor="start" fill="#222" stroke="#222" stroke-width="0.12" transform="translate(290.90,268.20) scale(1,1.07)">Conditioned medium:</text>
<text x="0" y="0" font-size="8.23" text-anchor="start" fill="#222" stroke="#222" stroke-width="0.12" transform="translate(290.90,277.30) scale(1,1.07)">day 4-6</text>
<line x1="242.10" y1="269.10" x2="242.10" y2="360.70" stroke="#111" stroke-width="1.1" />
<line x1="242.10" y1="360.70" x2="345.00" y2="360.70" stroke="#111" stroke-width="1.1" />
<line x1="239.90" y1="360.70" x2="242.10" y2="360.70" stroke="#111" stroke-width="1.0" />
<line x1="240.30" y1="354.16" x2="242.10" y2="354.16" stroke="#111" stroke-width="0.9" />
<text x="0" y="0" font-size="6.67" text-anchor="end" fill="#222" stroke="#222" stroke-width="0.12" transform="translate(236.20,363.60) scale(1,1.07)">0</text>
<line x1="239.90" y1="347.61" x2="242.10" y2="347.61" stroke="#111" stroke-width="1.0" />
<line x1="240.30" y1="341.07" x2="242.10" y2="341.07" stroke="#111" stroke-width="0.9" />
<text x="0" y="0" font-size="6.67" text-anchor="end" fill="#222" stroke="#222" stroke-width="0.12" transform="translate(236.20,350.51) scale(1,1.07)">10,000</text>
<line x1="239.90" y1="334.53" x2="242.10" y2="334.53" stroke="#111" stroke-width="1.0" />
<line x1="240.30" y1="327.99" x2="242.10" y2="327.99" stroke="#111" stroke-width="0.9" />
<text x="0" y="0" font-size="6.67" text-anchor="end" fill="#222" stroke="#222" stroke-width="0.12" transform="translate(236.20,337.43) scale(1,1.07)">20,000</text>
<line x1="239.90" y1="321.44" x2="242.10" y2="321.44" stroke="#111" stroke-width="1.0" />
<line x1="240.30" y1="314.90" x2="242.10" y2="314.90" stroke="#111" stroke-width="0.9" />
<text x="0" y="0" font-size="6.67" text-anchor="end" fill="#222" stroke="#222" stroke-width="0.12" transform="translate(236.20,324.34) scale(1,1.07)">30,000</text>
<line x1="239.90" y1="308.36" x2="242.10" y2="308.36" stroke="#111" stroke-width="1.0" />
<line x1="240.30" y1="301.81" x2="242.10" y2="301.81" stroke="#111" stroke-width="0.9" />
<text x="0" y="0" font-size="6.67" text-anchor="end" fill="#222" stroke="#222" stroke-width="0.12" transform="translate(236.20,311.26) scale(1,1.07)">40,000</text>
<line x1="239.90" y1="295.27" x2="242.10" y2="295.27" stroke="#111" stroke-width="1.0" />
<line x1="240.30" y1="288.73" x2="242.10" y2="288.73" stroke="#111" stroke-width="0.9" />
<text x="0" y="0" font-size="6.67" text-anchor="end" fill="#222" stroke="#222" stroke-width="0.12" transform="translate(236.20,298.17) scale(1,1.07)">50,000</text>
<line x1="239.90" y1="282.19" x2="242.10" y2="282.19" stroke="#111" stroke-width="1.0" />
<line x1="240.30" y1="275.64" x2="242.10" y2="275.64" stroke="#111" stroke-width="0.9" />
<text x="0" y="0" font-size="6.67" text-anchor="end" fill="#222" stroke="#222" stroke-width="0.12" transform="translate(236.20,285.09) scale(1,1.07)">60,000</text>
<line x1="239.90" y1="269.10" x2="242.10" y2="269.10" stroke="#111" stroke-width="1.0" />
<text x="0" y="0" font-size="6.67" text-anchor="end" fill="#222" stroke="#222" stroke-width="0.12" transform="translate(236.20,272.00) scale(1,1.07)">70,000</text>
<line x1="241.90" y1="360.70" x2="241.90" y2="362.60" stroke="#111" stroke-width="1.0" />
<line x1="244.30" y1="360.70" x2="244.30" y2="362.60" stroke="#111" stroke-width="1.0" />
<line x1="246.70" y1="360.70" x2="246.70" y2="362.60" stroke="#111" stroke-width="1.0" />
<line x1="249.10" y1="360.70" x2="249.10" y2="362.60" stroke="#111" stroke-width="1.0" />
<line x1="251.50" y1="360.70" x2="251.50" y2="362.60" stroke="#111" stroke-width="1.0" />
<line x1="253.90" y1="360.70" x2="253.90" y2="362.60" stroke="#111" stroke-width="1.0" />
<line x1="256.30" y1="360.70" x2="256.30" y2="362.60" stroke="#111" stroke-width="1.0" />
<line x1="258.70" y1="360.70" x2="258.70" y2="362.60" stroke="#111" stroke-width="1.0" />
<line x1="261.10" y1="360.70" x2="261.10" y2="362.60" stroke="#111" stroke-width="1.0" />
<line x1="263.50" y1="360.70" x2="263.50" y2="362.60" stroke="#111" stroke-width="1.0" />
<line x1="265.90" y1="360.70" x2="265.90" y2="362.60" stroke="#111" stroke-width="1.0" />
<line x1="268.30" y1="360.70" x2="268.30" y2="362.60" stroke="#111" stroke-width="1.0" />
<line x1="270.70" y1="360.70" x2="270.70" y2="362.60" stroke="#111" stroke-width="1.0" />
<line x1="273.10" y1="360.70" x2="273.10" y2="362.60" stroke="#111" stroke-width="1.0" />
<line x1="275.50" y1="360.70" x2="275.50" y2="362.60" stroke="#111" stroke-width="1.0" />
<line x1="277.90" y1="360.70" x2="277.90" y2="362.60" stroke="#111" stroke-width="1.0" />
<line x1="280.30" y1="360.70" x2="280.30" y2="362.60" stroke="#111" stroke-width="1.0" />
<line x1="282.70" y1="360.70" x2="282.70" y2="362.60" stroke="#111" stroke-width="1.0" />
<line x1="285.10" y1="360.70" x2="285.10" y2="362.60" stroke="#111" stroke-width="1.0" />
<line x1="287.50" y1="360.70" x2="287.50" y2="362.60" stroke="#111" stroke-width="1.0" />
<line x1="289.90" y1="360.70" x2="289.90" y2="362.60" stroke="#111" stroke-width="1.0" />
<line x1="292.30" y1="360.70" x2="292.30" y2="362.60" stroke="#111" stroke-width="1.0" />
<line x1="294.70" y1="360.70" x2="294.70" y2="362.60" stroke="#111" stroke-width="1.0" />
<line x1="297.10" y1="360.70" x2="297.10" y2="362.60" stroke="#111" stroke-width="1.0" />
<line x1="299.50" y1="360.70" x2="299.50" y2="362.60" stroke="#111" stroke-width="1.0" />
<line x1="301.90" y1="360.70" x2="301.90" y2="362.60" stroke="#111" stroke-width="1.0" />
<line x1="304.30" y1="360.70" x2="304.30" y2="362.60" stroke="#111" stroke-width="1.0" />
<line x1="306.70" y1="360.70" x2="306.70" y2="362.60" stroke="#111" stroke-width="1.0" />
<line x1="309.10" y1="360.70" x2="309.10" y2="362.60" stroke="#111" stroke-width="1.0" />
<line x1="311.50" y1="360.70" x2="311.50" y2="362.60" stroke="#111" stroke-width="1.0" />
<line x1="313.90" y1="360.70" x2="313.90" y2="362.60" stroke="#111" stroke-width="1.0" />
<line x1="316.30" y1="360.70" x2="316.30" y2="362.60" stroke="#111" stroke-width="1.0" />
<line x1="318.70" y1="360.70" x2="318.70" y2="362.60" stroke="#111" stroke-width="1.0" />
<line x1="321.10" y1="360.70" x2="321.10" y2="362.60" stroke="#111" stroke-width="1.0" />
<line x1="323.50" y1="360.70" x2="323.50" y2="362.60" stroke="#111" stroke-width="1.0" />
<line x1="325.90" y1="360.70" x2="325.90" y2="362.60" stroke="#111" stroke-width="1.0" />
<line x1="328.30" y1="360.70" x2="328.30" y2="362.60" stroke="#111" stroke-width="1.0" />
<line x1="330.70" y1="360.70" x2="330.70" y2="362.60" stroke="#111" stroke-width="1.0" />
<line x1="333.10" y1="360.70" x2="333.10" y2="362.60" stroke="#111" stroke-width="1.0" />
<line x1="335.50" y1="360.70" x2="335.50" y2="362.60" stroke="#111" stroke-width="1.0" />
<line x1="337.90" y1="360.70" x2="337.90" y2="362.60" stroke="#111" stroke-width="1.0" />
<line x1="340.30" y1="360.70" x2="340.30" y2="362.60" stroke="#111" stroke-width="1.0" />
<line x1="342.70" y1="360.70" x2="342.70" y2="362.60" stroke="#111" stroke-width="1.0" />
<text x="0" y="0" font-size="7.0" text-anchor="middle" fill="#222" stroke="#222" stroke-width="0.12" transform="translate(241.90,371.30) scale(1,1.07)">0</text>
<text x="0" y="0" font-size="7.0" text-anchor="middle" fill="#222" stroke="#222" stroke-width="0.12" transform="translate(256.30,371.30) scale(1,1.07)">6</text>
<text x="0" y="0" font-size="7.0" text-anchor="middle" fill="#222" stroke="#222" stroke-width="0.12" transform="translate(270.70,371.30) scale(1,1.07)">12</text>
<text x="0" y="0" font-size="7.0" text-anchor="middle" fill="#222" stroke="#222" stroke-width="0.12" transform="translate(285.10,371.30) scale(1,1.07)">18</text>
<text x="0" y="0" font-size="7.0" text-anchor="middle" fill="#222" stroke="#222" stroke-width="0.12" transform="translate(299.50,371.30) scale(1,1.07)">24</text>
<text x="0" y="0" font-size="7.0" text-anchor="middle" fill="#222" stroke="#222" stroke-width="0.12" transform="translate(313.90,371.30) scale(1,1.07)">30</text>
<text x="0" y="0" font-size="7.0" text-anchor="middle" fill="#222" stroke="#222" stroke-width="0.12" transform="translate(328.30,371.30) scale(1,1.07)">36</text>
<text x="0" y="0" font-size="7.0" text-anchor="middle" fill="#222" stroke="#222" stroke-width="0.12" transform="translate(342.70,371.30) scale(1,1.07)">42</text>
<text x="0" y="0" font-size="8.1" text-anchor="start" fill="#222" stroke="#222" stroke-width="0.12" transform="translate(216.50,370.40) scale(1,1.07)">Days</text>
<text x="0.00" y="0.00" font-size="8.1" text-anchor="middle" fill="#222" stroke="#222" stroke-width="0.12" transform="translate(209.8,310.0) rotate(-90)">Cell number</text>
<path d="M261.10,329.69 C264.30,325.52 273.90,301.23 280.30,304.69 C286.70,308.16 292.30,341.59 299.50,350.49 C306.70,359.39 316.30,356.49 323.50,358.08 C330.70,359.67 339.50,359.72 342.70,360.05" stroke="#ED7D31" stroke-width="1.2" fill="none" />
<path d="M261.10,320.27 C264.30,319.02 273.90,307.88 280.30,312.81 C286.70,317.74 292.30,342.47 299.50,349.84 C306.70,357.21 316.30,355.40 323.50,357.04 C330.70,358.67 339.50,359.22 342.70,359.65" stroke="#2E75C0" stroke-width="1.2" fill="none" />
<polygon points="280.60,315.10 281.22,316.75 282.98,316.83 281.60,317.92 282.07,319.62 280.60,318.65 279.13,319.62 279.60,317.92 278.22,316.83 279.98,316.75" fill="#111"/>
<circle cx="261.10" cy="329.69" r="3.75" fill="#ED7D31"/>
<circle cx="280.30" cy="304.69" r="3.75" fill="#ED7D31"/>
<circle cx="299.50" cy="350.49" r="3.75" fill="#ED7D31"/>
<circle cx="323.50" cy="358.08" r="3.75" fill="#ED7D31"/>
<circle cx="342.70" cy="360.05" r="3.75" fill="#ED7D31"/>
<circle cx="261.10" cy="320.27" r="3.75" fill="#2E75C0"/>
<circle cx="280.30" cy="312.81" r="3.75" fill="#2E75C0"/>
<circle cx="299.50" cy="349.84" r="3.75" fill="#2E75C0"/>
<circle cx="323.50" cy="357.04" r="3.75" fill="#2E75C0"/>
<circle cx="342.70" cy="359.65" r="3.75" fill="#2E75C0"/>
<polygon points="261.40,309.80 262.02,311.45 263.78,311.53 262.40,312.62 262.87,314.32 261.40,313.35 259.93,314.32 260.40,312.62 259.02,311.53 260.78,311.45" fill="#111"/>
<text x="0" y="0" font-size="11.8" text-anchor="start" fill="#222" stroke="#222" stroke-width="0.12" transform="translate(202.00,386.60) scale(0.72,1.07)">E</text>
<text x="0" y="0" font-size="8.23" text-anchor="start" fill="#222" stroke="#222" stroke-width="0.12" transform="translate(285.60,386.90) scale(1,1.07)">Conditioned medium:</text>
<text x="0" y="0" font-size="8.23" text-anchor="start" fill="#222" stroke="#222" stroke-width="0.12" transform="translate(285.60,396.20) scale(1,1.07)">day 4-7</text>
<line x1="242.10" y1="390.30" x2="242.10" y2="482.60" stroke="#111" stroke-width="1.1" />
<line x1="242.10" y1="482.60" x2="348.00" y2="482.60" stroke="#111" stroke-width="1.1" />
<line x1="239.90" y1="482.60" x2="242.10" y2="482.60" stroke="#111" stroke-width="1.0" />
<line x1="240.30" y1="476.01" x2="242.10" y2="476.01" stroke="#111" stroke-width="0.9" />
<text x="0" y="0" font-size="6.67" text-anchor="end" fill="#222" stroke="#222" stroke-width="0.12" transform="translate(236.20,485.40) scale(1,1.07)">0</text>
<line x1="239.90" y1="469.41" x2="242.10" y2="469.41" stroke="#111" stroke-width="1.0" />
<line x1="240.30" y1="462.82" x2="242.10" y2="462.82" stroke="#111" stroke-width="0.9" />
<text x="0" y="0" font-size="6.67" text-anchor="end" fill="#222" stroke="#222" stroke-width="0.12" transform="translate(236.20,472.21) scale(1,1.07)">10,000</text>
<line x1="239.90" y1="456.23" x2="242.10" y2="456.23" stroke="#111" stroke-width="1.0" />
<line x1="240.30" y1="449.64" x2="242.10" y2="449.64" stroke="#111" stroke-width="0.9" />
<text x="0" y="0" font-size="6.67" text-anchor="end" fill="#222" stroke="#222" stroke-width="0.12" transform="translate(236.20,459.03) scale(1,1.07)">20,000</text>
<line x1="239.90" y1="443.04" x2="242.10" y2="443.04" stroke="#111" stroke-width="1.0" />
<line x1="240.30" y1="436.45" x2="242.10" y2="436.45" stroke="#111" stroke-width="0.9" />
<text x="0" y="0" font-size="6.67" text-anchor="end" fill="#222" stroke="#222" stroke-width="0.12" transform="translate(236.20,445.84) scale(1,1.07)">30,000</text>
<line x1="239.90" y1="429.86" x2="242.10" y2="429.86" stroke="#111" stroke-width="1.0" />
<line x1="240.30" y1="423.26" x2="242.10" y2="423.26" stroke="#111" stroke-width="0.9" />
<text x="0" y="0" font-size="6.67" text-anchor="end" fill="#222" stroke="#222" stroke-width="0.12" transform="translate(236.20,432.66) scale(1,1.07)">40,000</text>
<line x1="239.90" y1="416.67" x2="242.10" y2="416.67" stroke="#111" stroke-width="1.0" />
<line x1="240.30" y1="410.08" x2="242.10" y2="410.08" stroke="#111" stroke-width="0.9" />
<text x="0" y="0" font-size="6.67" text-anchor="end" fill="#222" stroke="#222" stroke-width="0.12" transform="translate(236.20,419.47) scale(1,1.07)">50,000</text>
<line x1="239.90" y1="403.49" x2="242.10" y2="403.49" stroke="#111" stroke-width="1.0" />
<line x1="240.30" y1="396.89" x2="242.10" y2="396.89" stroke="#111" stroke-width="0.9" />
<text x="0" y="0" font-size="6.67" text-anchor="end" fill="#222" stroke="#222" stroke-width="0.12" transform="translate(236.20,406.29) scale(1,1.07)">60,000</text>
<line x1="239.90" y1="390.30" x2="242.10" y2="390.30" stroke="#111" stroke-width="1.0" />
<text x="0" y="0" font-size="6.67" text-anchor="end" fill="#222" stroke="#222" stroke-width="0.12" transform="translate(236.20,393.10) scale(1,1.07)">70,000</text>
<line x1="242.50" y1="482.60" x2="242.50" y2="484.50" stroke="#111" stroke-width="1.0" />
<line x1="245.04" y1="482.60" x2="245.04" y2="484.50" stroke="#111" stroke-width="1.0" />
<line x1="247.57" y1="482.60" x2="247.57" y2="484.50" stroke="#111" stroke-width="1.0" />
<line x1="250.11" y1="482.60" x2="250.11" y2="484.50" stroke="#111" stroke-width="1.0" />
<line x1="252.64" y1="482.60" x2="252.64" y2="484.50" stroke="#111" stroke-width="1.0" />
<line x1="255.18" y1="482.60" x2="255.18" y2="484.50" stroke="#111" stroke-width="1.0" />
<line x1="257.72" y1="482.60" x2="257.72" y2="484.50" stroke="#111" stroke-width="1.0" />
<line x1="260.25" y1="482.60" x2="260.25" y2="484.50" stroke="#111" stroke-width="1.0" />
<line x1="262.79" y1="482.60" x2="262.79" y2="484.50" stroke="#111" stroke-width="1.0" />
<line x1="265.32" y1="482.60" x2="265.32" y2="484.50" stroke="#111" stroke-width="1.0" />
<line x1="267.86" y1="482.60" x2="267.86" y2="484.50" stroke="#111" stroke-width="1.0" />
<line x1="270.40" y1="482.60" x2="270.40" y2="484.50" stroke="#111" stroke-width="1.0" />
<line x1="272.93" y1="482.60" x2="272.93" y2="484.50" stroke="#111" stroke-width="1.0" />
<line x1="275.47" y1="482.60" x2="275.47" y2="484.50" stroke="#111" stroke-width="1.0" />
<line x1="278.00" y1="482.60" x2="278.00" y2="484.50" stroke="#111" stroke-width="1.0" />
<line x1="280.54" y1="482.60" x2="280.54" y2="484.50" stroke="#111" stroke-width="1.0" />
<line x1="283.08" y1="482.60" x2="283.08" y2="484.50" stroke="#111" stroke-width="1.0" />
<line x1="285.61" y1="482.60" x2="285.61" y2="484.50" stroke="#111" stroke-width="1.0" />
<line x1="288.15" y1="482.60" x2="288.15" y2="484.50" stroke="#111" stroke-width="1.0" />
<line x1="290.68" y1="482.60" x2="290.68" y2="484.50" stroke="#111" stroke-width="1.0" />
<line x1="293.22" y1="482.60" x2="293.22" y2="484.50" stroke="#111" stroke-width="1.0" />
<line x1="295.76" y1="482.60" x2="295.76" y2="484.50" stroke="#111" stroke-width="1.0" />
<line x1="298.29" y1="482.60" x2="298.29" y2="484.50" stroke="#111" stroke-width="1.0" />
<line x1="300.83" y1="482.60" x2="300.83" y2="484.50" stroke="#111" stroke-width="1.0" />
<line x1="303.36" y1="482.60" x2="303.36" y2="484.50" stroke="#111" stroke-width="1.0" />
<line x1="305.90" y1="482.60" x2="305.90" y2="484.50" stroke="#111" stroke-width="1.0" />
<line x1="308.44" y1="482.60" x2="308.44" y2="484.50" stroke="#111" stroke-width="1.0" />
<line x1="310.97" y1="482.60" x2="310.97" y2="484.50" stroke="#111" stroke-width="1.0" />
<line x1="313.51" y1="482.60" x2="313.51" y2="484.50" stroke="#111" stroke-width="1.0" />
<line x1="316.04" y1="482.60" x2="316.04" y2="484.50" stroke="#111" stroke-width="1.0" />
<line x1="318.58" y1="482.60" x2="318.58" y2="484.50" stroke="#111" stroke-width="1.0" />
<line x1="321.12" y1="482.60" x2="321.12" y2="484.50" stroke="#111" stroke-width="1.0" />
<line x1="323.65" y1="482.60" x2="323.65" y2="484.50" stroke="#111" stroke-width="1.0" />
<line x1="326.19" y1="482.60" x2="326.19" y2="484.50" stroke="#111" stroke-width="1.0" />
<line x1="328.72" y1="482.60" x2="328.72" y2="484.50" stroke="#111" stroke-width="1.0" />
<line x1="331.26" y1="482.60" x2="331.26" y2="484.50" stroke="#111" stroke-width="1.0" />
<line x1="333.80" y1="482.60" x2="333.80" y2="484.50" stroke="#111" stroke-width="1.0" />
<line x1="336.33" y1="482.60" x2="336.33" y2="484.50" stroke="#111" stroke-width="1.0" />
<line x1="338.87" y1="482.60" x2="338.87" y2="484.50" stroke="#111" stroke-width="1.0" />
<line x1="341.40" y1="482.60" x2="341.40" y2="484.50" stroke="#111" stroke-width="1.0" />
<line x1="343.94" y1="482.60" x2="343.94" y2="484.50" stroke="#111" stroke-width="1.0" />
<line x1="346.48" y1="482.60" x2="346.48" y2="484.50" stroke="#111" stroke-width="1.0" />
<line x1="349.01" y1="482.60" x2="349.01" y2="484.50" stroke="#111" stroke-width="1.0" />
<text x="0" y="0" font-size="7.0" text-anchor="middle" fill="#222" stroke="#222" stroke-width="0.12" transform="translate(242.50,494.20) scale(1,1.07)">0</text>
<text x="0" y="0" font-size="7.0" text-anchor="middle" fill="#222" stroke="#222" stroke-width="0.12" transform="translate(257.72,494.20) scale(1,1.07)">6</text>
<text x="0" y="0" font-size="7.0" text-anchor="middle" fill="#222" stroke="#222" stroke-width="0.12" transform="translate(272.93,494.20) scale(1,1.07)">12</text>
<text x="0" y="0" font-size="7.0" text-anchor="middle" fill="#222" stroke="#222" stroke-width="0.12" transform="translate(288.15,494.20) scale(1,1.07)">18</text>
<text x="0" y="0" font-size="7.0" text-anchor="middle" fill="#222" stroke="#222" stroke-width="0.12" transform="translate(303.36,494.20) scale(1,1.07)">24</text>
<text x="0" y="0" font-size="7.0" text-anchor="middle" fill="#222" stroke="#222" stroke-width="0.12" transform="translate(318.58,494.20) scale(1,1.07)">30</text>
<text x="0" y="0" font-size="7.0" text-anchor="middle" fill="#222" stroke="#222" stroke-width="0.12" transform="translate(333.80,494.20) scale(1,1.07)">36</text>
<text x="0" y="0" font-size="7.0" text-anchor="middle" fill="#222" stroke="#222" stroke-width="0.12" transform="translate(349.01,494.20) scale(1,1.07)">42</text>
<text x="0" y="0" font-size="8.1" text-anchor="start" fill="#222" stroke="#222" stroke-width="0.12" transform="translate(215.10,493.70) scale(1,1.07)">Days</text>
<text x="0.00" y="0.00" font-size="8.1" text-anchor="middle" fill="#222" stroke="#222" stroke-width="0.12" transform="translate(209.8,431.8) rotate(-90)">Cell number</text>
<path d="M262.79,445.68 C266.17,443.99 276.31,431.42 283.08,435.53 C289.84,439.64 295.76,463.04 303.36,470.34 C310.97,477.63 321.12,477.37 328.72,479.30 C336.33,481.24 345.63,481.50 349.01,481.94" stroke="#ED7D31" stroke-width="1.2" fill="none" />
<path d="M262.79,441.72 C266.17,441.37 276.31,434.54 283.08,439.61 C289.84,444.69 295.76,465.63 303.36,472.18 C310.97,478.73 321.12,477.30 328.72,478.91 C336.33,480.51 345.63,481.33 349.01,481.81" stroke="#2E75C0" stroke-width="1.2" fill="none" />
<line x1="283.08" y1="446.20" x2="283.08" y2="439.61" stroke="#111" stroke-width="1.1" />
<line x1="281.28" y1="446.20" x2="284.88" y2="446.20" stroke="#111" stroke-width="1.1" />
<circle cx="262.79" cy="445.68" r="3.75" fill="#ED7D31"/>
<circle cx="283.08" cy="435.53" r="3.75" fill="#ED7D31"/>
<circle cx="303.36" cy="470.34" r="3.75" fill="#ED7D31"/>
<circle cx="328.72" cy="479.30" r="3.75" fill="#ED7D31"/>
<circle cx="349.01" cy="481.94" r="3.75" fill="#ED7D31"/>
<circle cx="262.79" cy="441.72" r="3.75" fill="#2E75C0"/>
<circle cx="283.08" cy="439.61" r="3.75" fill="#2E75C0"/>
<circle cx="303.36" cy="472.18" r="3.75" fill="#2E75C0"/>
<circle cx="328.72" cy="478.91" r="3.75" fill="#2E75C0"/>
<circle cx="349.01" cy="481.81" r="3.75" fill="#2E75C0"/>
<text x="0" y="0" font-size="11.8" text-anchor="start" fill="#222" stroke="#222" stroke-width="0.12" transform="translate(13.00,319.60) scale(0.72,1.07)">F</text>
<text x="0" y="0" font-size="8.2" text-anchor="start" fill="#222" stroke="#222" stroke-width="0.12" transform="translate(46.10,320.10) scale(1,1.07)">Conditioned medium:</text>
<text x="0" y="0" font-size="8.2" text-anchor="start" fill="#222" stroke="#222" stroke-width="0.12" transform="translate(46.10,330.00) scale(1,1.07)">day 0-4</text>
<line x1="39.30" y1="327.90" x2="39.30" y2="449.40" stroke="#111" stroke-width="1.1" />
<line x1="39.30" y1="449.40" x2="183.00" y2="449.40" stroke="#111" stroke-width="1.1" />
<line x1="37.30" y1="449.40" x2="39.30" y2="449.40" stroke="#111" stroke-width="0.8" />
<text x="0" y="0" font-size="6.67" text-anchor="end" fill="#222" stroke="#222" stroke-width="0.12" transform="translate(33.30,451.70) scale(1,1.07)">0</text>
<line x1="38.00" y1="441.30" x2="39.30" y2="441.30" stroke="#111" stroke-width="0.8" />
<line x1="38.00" y1="433.20" x2="39.30" y2="433.20" stroke="#111" stroke-width="0.8" />
<line x1="37.30" y1="425.10" x2="39.30" y2="425.10" stroke="#111" stroke-width="0.8" />
<text x="0" y="0" font-size="6.67" text-anchor="end" fill="#222" stroke="#222" stroke-width="0.12" transform="translate(33.30,427.40) scale(1,1.07)">3</text>
<line x1="38.00" y1="417.00" x2="39.30" y2="417.00" stroke="#111" stroke-width="0.8" />
<line x1="38.00" y1="408.90" x2="39.30" y2="408.90" stroke="#111" stroke-width="0.8" />
<line x1="37.30" y1="400.80" x2="39.30" y2="400.80" stroke="#111" stroke-width="0.8" />
<text x="0" y="0" font-size="6.67" text-anchor="end" fill="#222" stroke="#222" stroke-width="0.12" transform="translate(33.30,403.10) scale(1,1.07)">6</text>
<line x1="38.00" y1="392.70" x2="39.30" y2="392.70" stroke="#111" stroke-width="0.8" />
<line x1="38.00" y1="384.60" x2="39.30" y2="384.60" stroke="#111" stroke-width="0.8" />
<line x1="37.30" y1="376.50" x2="39.30" y2="376.50" stroke="#111" stroke-width="0.8" />
<text x="0" y="0" font-size="6.67" text-anchor="end" fill="#222" stroke="#222" stroke-width="0.12" transform="translate(33.30,378.80) scale(1,1.07)">9</text>
<line x1="38.00" y1="368.40" x2="39.30" y2="368.40" stroke="#111" stroke-width="0.8" />
<line x1="38.00" y1="360.30" x2="39.30" y2="360.30" stroke="#111" stroke-width="0.8" />
<line x1="37.30" y1="352.20" x2="39.30" y2="352.20" stroke="#111" stroke-width="0.8" />
<text x="0" y="0" font-size="6.67" text-anchor="end" fill="#222" stroke="#222" stroke-width="0.12" transform="translate(33.30,354.50) scale(1,1.07)">12</text>
<line x1="38.00" y1="344.10" x2="39.30" y2="344.10" stroke="#111" stroke-width="0.8" />
<line x1="38.00" y1="336.00" x2="39.30" y2="336.00" stroke="#111" stroke-width="0.8" />
<line x1="37.30" y1="327.90" x2="39.30" y2="327.90" stroke="#111" stroke-width="0.8" />
<text x="0" y="0" font-size="6.67" text-anchor="end" fill="#222" stroke="#222" stroke-width="0.12" transform="translate(33.30,330.20) scale(1,1.07)">15</text>
<line x1="39.50" y1="449.40" x2="39.50" y2="451.00" stroke="#111" stroke-width="0.8" />
<line x1="45.48" y1="449.40" x2="45.48" y2="451.00" stroke="#111" stroke-width="0.8" />
<line x1="51.46" y1="449.40" x2="51.46" y2="451.00" stroke="#111" stroke-width="0.8" />
<line x1="57.44" y1="449.40" x2="57.44" y2="451.00" stroke="#111" stroke-width="0.8" />
<line x1="63.42" y1="449.40" x2="63.42" y2="451.00" stroke="#111" stroke-width="0.8" />
<line x1="69.40" y1="449.40" x2="69.40" y2="451.00" stroke="#111" stroke-width="0.8" />
<line x1="75.38" y1="449.40" x2="75.38" y2="451.00" stroke="#111" stroke-width="0.8" />
<line x1="81.36" y1="449.40" x2="81.36" y2="451.00" stroke="#111" stroke-width="0.8" />
<line x1="87.34" y1="449.40" x2="87.34" y2="451.00" stroke="#111" stroke-width="0.8" />
<line x1="93.32" y1="449.40" x2="93.32" y2="451.00" stroke="#111" stroke-width="0.8" />
<line x1="99.30" y1="449.40" x2="99.30" y2="451.00" stroke="#111" stroke-width="0.8" />
<line x1="105.28" y1="449.40" x2="105.28" y2="451.00" stroke="#111" stroke-width="0.8" />
<line x1="111.26" y1="449.40" x2="111.26" y2="451.00" stroke="#111" stroke-width="0.8" />
<line x1="117.24" y1="449.40" x2="117.24" y2="451.00" stroke="#111" stroke-width="0.8" />
<line x1="123.22" y1="449.40" x2="123.22" y2="451.00" stroke="#111" stroke-width="0.8" />
<line x1="129.20" y1="449.40" x2="129.20" y2="451.00" stroke="#111" stroke-width="0.8" />
<line x1="135.18" y1="449.40" x2="135.18" y2="451.00" stroke="#111" stroke-width="0.8" />
<line x1="141.16" y1="449.40" x2="141.16" y2="451.00" stroke="#111" stroke-width="0.8" />
<line x1="147.14" y1="449.40" x2="147.14" y2="451.00" stroke="#111" stroke-width="0.8" />
<line x1="153.12" y1="449.40" x2="153.12" y2="451.00" stroke="#111" stroke-width="0.8" />
<line x1="159.10" y1="449.40" x2="159.10" y2="451.00" stroke="#111" stroke-width="0.8" />
<line x1="165.08" y1="449.40" x2="165.08" y2="451.00" stroke="#111" stroke-width="0.8" />
<line x1="171.06" y1="449.40" x2="171.06" y2="451.00" stroke="#111" stroke-width="0.8" />
<line x1="177.04" y1="449.40" x2="177.04" y2="451.00" stroke="#111" stroke-width="0.8" />
<line x1="183.02" y1="449.40" x2="183.02" y2="451.00" stroke="#111" stroke-width="0.8" />
<text x="0" y="0" font-size="7.0" text-anchor="middle" fill="#222" stroke="#222" stroke-width="0.12" transform="translate(39.50,460.20) scale(1,1.07)">0</text>
<text x="0" y="0" font-size="7.0" text-anchor="middle" fill="#222" stroke="#222" stroke-width="0.12" transform="translate(63.42,460.20) scale(1,1.07)">20</text>
<text x="0" y="0" font-size="7.0" text-anchor="middle" fill="#222" stroke="#222" stroke-width="0.12" transform="translate(87.34,460.20) scale(1,1.07)">40</text>
<text x="0" y="0" font-size="7.0" text-anchor="middle" fill="#222" stroke="#222" stroke-width="0.12" transform="translate(111.26,460.20) scale(1,1.07)">60</text>
<text x="0" y="0" font-size="7.0" text-anchor="middle" fill="#222" stroke="#222" stroke-width="0.12" transform="translate(135.18,460.20) scale(1,1.07)">80</text>
<text x="0" y="0" font-size="7.0" text-anchor="middle" fill="#222" stroke="#222" stroke-width="0.12" transform="translate(159.10,460.20) scale(1,1.07)">100</text>
<text x="0" y="0" font-size="7.0" text-anchor="middle" fill="#222" stroke="#222" stroke-width="0.12" transform="translate(183.02,460.20) scale(1,1.07)">120</text>
<text x="0" y="0" font-size="8.1" text-anchor="start" fill="#222" stroke="#222" stroke-width="0.12" transform="translate(12.20,459.80) scale(1,1.07)">Days</text>
<text x="0.00" y="0.00" font-size="8.3" text-anchor="middle" fill="#222" stroke="#222" stroke-width="0.12" transform="translate(10.9,384.6) rotate(-90)">Mammosphere number</text>
<path d="M99.30,408.90 C101.81,412.07 120.47,437.80 124.42,440.57 C128.36,443.34 135.66,436.78 138.77,436.60 C141.88,436.42 153.84,438.57 155.51,438.79" stroke="#ED7D31" stroke-width="1.2" fill="none" />
<path d="M99.30,352.20 C101.81,360.26 120.47,424.78 124.42,432.79 C128.36,440.81 135.66,432.15 138.77,432.39 C141.88,432.63 153.84,434.94 155.51,435.22" stroke="#6AAF43" stroke-width="1.2" fill="none" />
<path d="M99.30,372.45 C101.81,377.71 120.47,420.89 124.42,425.10 C128.36,429.31 135.66,414.77 138.77,414.57 C141.88,414.37 153.84,422.22 155.51,423.07" stroke="#000000" stroke-width="1.2" fill="none" />
<line x1="138.77" y1="407.80" x2="138.77" y2="432.00" stroke="#111" stroke-width="1.4" />
<line x1="136.97" y1="407.80" x2="140.57" y2="407.80" stroke="#111" stroke-width="1.4" />
<line x1="155.51" y1="422.43" x2="155.51" y2="426.60" stroke="#111" stroke-width="1.1" />
<line x1="153.71" y1="426.60" x2="157.31" y2="426.60" stroke="#111" stroke-width="1.1" />
<circle cx="99.30" cy="408.90" r="3.3" fill="#ED7D31"/>
<circle cx="124.42" cy="440.57" r="3.3" fill="#ED7D31"/>
<circle cx="138.77" cy="436.60" r="3.3" fill="#ED7D31"/>
<circle cx="155.51" cy="438.79" r="3.3" fill="#ED7D31"/>
<circle cx="99.30" cy="352.20" r="3.3" fill="#6AAF43"/>
<circle cx="124.42" cy="432.79" r="3.3" fill="#6AAF43"/>
<circle cx="138.77" cy="432.39" r="3.3" fill="#6AAF43"/>
<circle cx="155.51" cy="435.22" r="3.3" fill="#6AAF43"/>
<circle cx="99.30" cy="372.45" r="3.3" fill="#000000"/>
<circle cx="124.42" cy="425.10" r="3.3" fill="#000000"/>
<circle cx="138.77" cy="414.57" r="3.3" fill="#000000"/>
<circle cx="155.51" cy="423.07" r="3.3" fill="#000000"/>
<text x="0" y="0" font-size="6.8" text-anchor="middle" fill="#333" stroke="#333" stroke-width="0.12" transform="translate(99.30,330.90) scale(1,1.07)">A</text>
<text x="0" y="0" font-size="6.8" text-anchor="middle" fill="#333" stroke="#333" stroke-width="0.12" transform="translate(99.30,339.00) scale(1,1.07)">A</text>
<text x="0" y="0" font-size="6.8" text-anchor="middle" fill="#333" stroke="#333" stroke-width="0.12" transform="translate(99.30,347.60) scale(1,1.07)">A</text>
<text x="0" y="0" font-size="6.8" text-anchor="middle" fill="#333" stroke="#333" stroke-width="0.12" transform="translate(125.30,401.40) scale(1,1.07)">A</text>
<text x="0" y="0" font-size="6.8" text-anchor="middle" fill="#333" stroke="#333" stroke-width="0.12" transform="translate(125.30,409.70) scale(1,1.07)">A,B</text>
<text x="0" y="0" font-size="6.8" text-anchor="middle" fill="#333" stroke="#333" stroke-width="0.12" transform="translate(125.30,417.40) scale(1,1.07)">B</text>
<text x="0" y="0" font-size="6.8" text-anchor="middle" fill="#333" stroke="#333" stroke-width="0.12" transform="translate(139.00,387.70) scale(1,1.07)">A</text>
<text x="0" y="0" font-size="6.8" text-anchor="middle" fill="#333" stroke="#333" stroke-width="0.12" transform="translate(139.00,395.70) scale(1,1.07)">B</text>
<text x="0" y="0" font-size="6.8" text-anchor="middle" fill="#333" stroke="#333" stroke-width="0.12" transform="translate(139.00,403.80) scale(1,1.07)">B</text>
<text x="0" y="0" font-size="6.8" text-anchor="middle" fill="#333" stroke="#333" stroke-width="0.12" transform="translate(156.30,400.50) scale(1,1.07)">A</text>
<text x="0" y="0" font-size="6.8" text-anchor="middle" fill="#333" stroke="#333" stroke-width="0.12" transform="translate(156.30,408.10) scale(1,1.07)">B</text>
<text x="0" y="0" font-size="6.8" text-anchor="middle" fill="#333" stroke="#333" stroke-width="0.12" transform="translate(156.30,415.80) scale(1,1.07)">B</text>
<text x="0" y="0" font-size="8.2" text-anchor="start" fill="#222" stroke="#222" stroke-width="0.12" transform="translate(21.00,490.90) scale(1,1.07)">Conditioned medium:</text>
<circle cx="13.50" cy="500.40" r="5.4" fill="#ED7D31"/>
<text x="0" y="0" font-size="8.36" text-anchor="start" fill="#222" stroke="#222" stroke-width="0.12" transform="translate(21.50,503.30) scale(1,1.07)">Medium incubated with control non-epithelial cells</text>
<circle cx="13.50" cy="513.80" r="5.4" fill="#2E75C0"/>
<text x="0" y="0" font-size="8.36" text-anchor="start" fill="#222" stroke="#222" stroke-width="0.12" transform="translate(21.50,516.40) scale(1,1.07)">Medium incubated with CR non-epithelial cells</text>
<circle cx="13.50" cy="526.80" r="5.4" fill="#6AAF43"/>
<text x="0" y="0" font-size="8.36" text-anchor="start" fill="#222" stroke="#222" stroke-width="0.12" transform="translate(21.50,529.50) scale(1,1.07)">Diluted medium (65%) incubated with control non-epithelial cells</text>
<circle cx="13.50" cy="540.20" r="5.4" fill="#000000"/>
<text x="0" y="0" font-size="8.36" text-anchor="start" fill="#222" stroke="#222" stroke-width="0.12" transform="translate(21.50,544.00) scale(1,1.07)">Diluted medium (65%) incubated with CR non-epithelial cells</text>
</svg>
</body></html>
